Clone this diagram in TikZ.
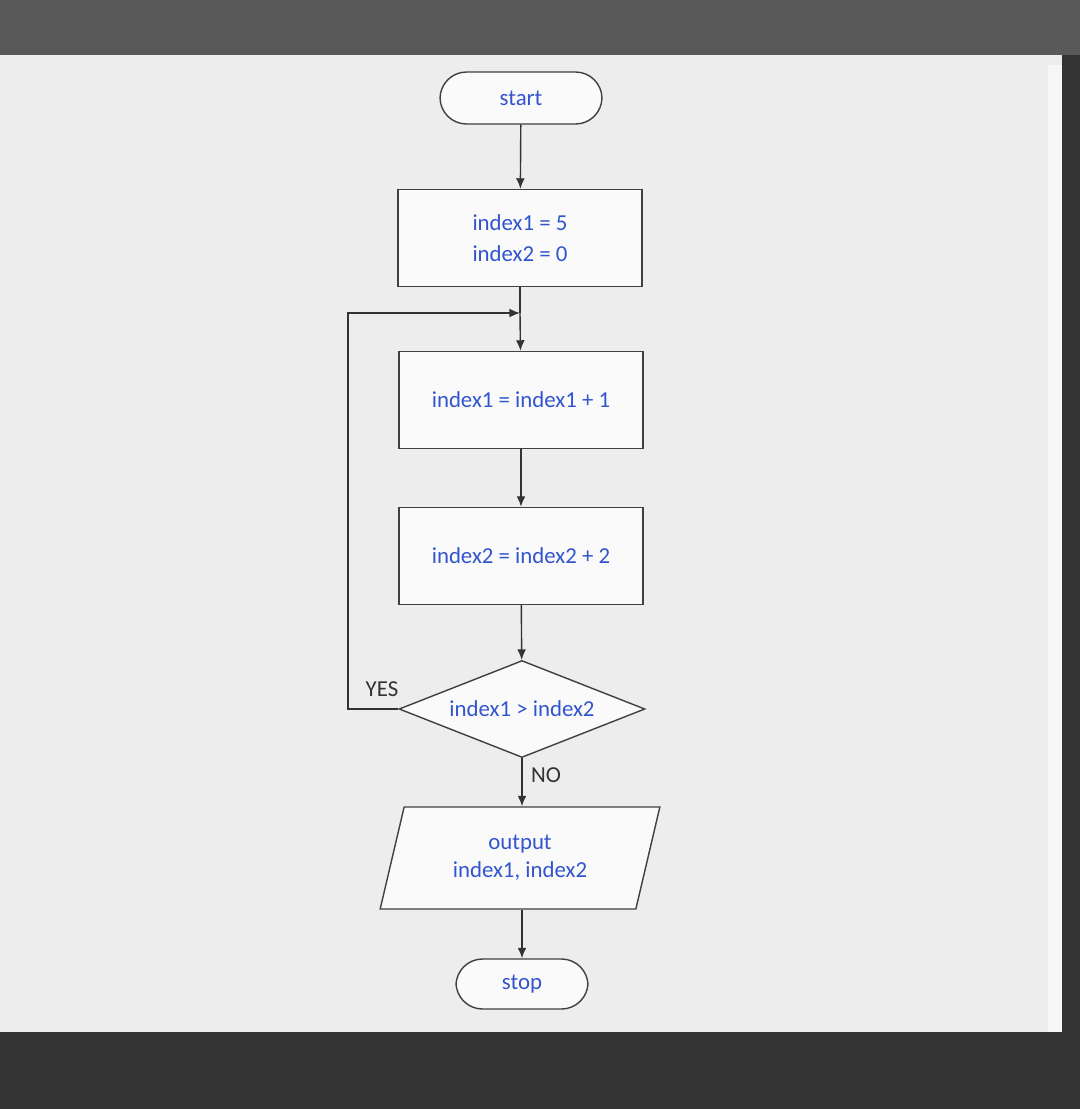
\documentclass[tikz,border=0pt]{standalone}
\usepackage{fontspec}
\setmainfont{Carlito}
\usetikzlibrary{arrows.meta,shapes.geometric}
\definecolor{txt}{RGB}{50,85,205}
\begin{document}
\begin{tikzpicture}[x=0.02cm,y=-0.02cm,
  lbl/.style={font=\fontsize{13}{16}\selectfont,text=txt},
  box/.style={draw=black!75,fill=white!96!gray,line width=0.8pt,minimum width=4.88cm,minimum height=1.94cm,align=center,lbl},
  term/.style={draw=black!75,fill=white!96!gray,line width=0.8pt,rounded corners=0.53cm,minimum height=1.04cm,lbl},
  arr/.style={draw=black!80,line width=0.8pt,-{Latex[length=6pt,width=5pt]}}]
\useasboundingbox (0,0) rectangle (1080,1109);
\fill[black!80] (0,0) rectangle (1080,1109);
\fill[gray!70!black] (0,0) rectangle (1080,55);
\fill[black!7] (0,55) rectangle (1062,1032);
\fill[black!3] (1048,65) rectangle (1062,1032);
\node[term,minimum width=3.24cm] (start) at (521,98) {start};
\node[box] (b1) at (520,238) {index1 = 5\\[2pt]index2 = 0};
\coordinate (j) at (520,313);
\node[box] (b2) at (521,400) {index1 = index1 + 1};
\node[box] (b3) at (521,556) {index2 = index2 + 2};
\node[diamond,draw=black!75,fill=white!96!gray,line width=0.8pt,aspect=2.55,minimum width=4.92cm,minimum height=1.94cm,inner sep=0pt,lbl] (d) at (522,709) {index1 > index2};
\node[trapezium,trapezium stretches=true,trapezium left angle=73,trapezium right angle=107,draw=black!75,fill=white!96!gray,line width=0.8pt,minimum width=5.62cm,minimum height=2.04cm,inner sep=0pt,align=center,lbl] (out) at (520,858) {output\\index1, index2};
\node[term,minimum width=2.64cm,minimum height=1.0cm] (stop) at (522,984) {stop};
\draw[arr] (start) -- (b1);
\draw[draw=black!80,line width=0.8pt] (b1) -- (j);
\draw[arr] (j) -- (b2);
\draw[arr] (b2) -- (b3);
\draw[arr] (b3) -- (d);
\draw[arr] (d.west) -- (348,709) -- (348,313) -- (j);
\draw[arr] (d.south) -- (d.south |- out.north);
\draw[arr] (out.south -| stop.north) -- (stop);
\node[font=\fontsize{13}{16}\selectfont,text=black!80] (yes) at (382,689) {YES};
\node[font=\fontsize{13}{16}\selectfont,text=black!80] (no) at (546,775) {NO};
\end{tikzpicture}
\end{document}
